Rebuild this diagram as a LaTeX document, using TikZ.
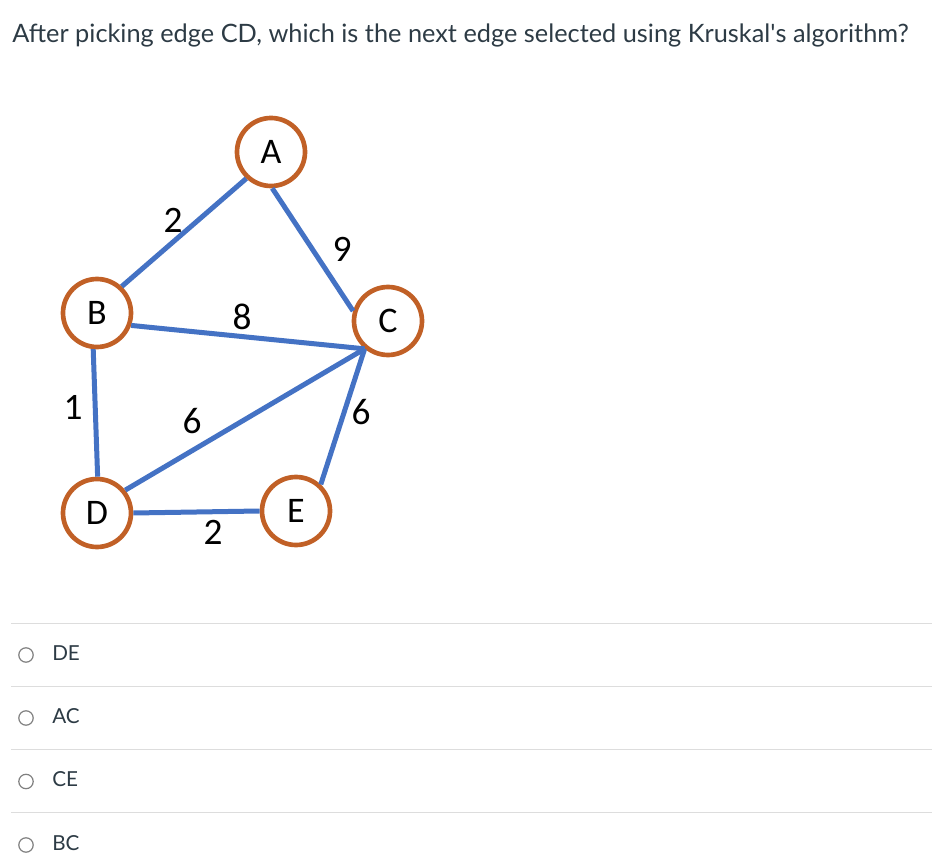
\documentclass[tikz,border=0pt]{standalone}
\usepackage{xcolor}
\usepackage{fontspec}
\usepackage{tikz}
\setmainfont{Lato}
\newfontfamily\lblfont{Carlito}
\definecolor{vtxring}{RGB}{193,96,38}
\definecolor{edgeblue}{RGB}{68,114,196}
\definecolor{canvastext}{RGB}{45,59,69}
\definecolor{rulegray}{RGB}{221,221,221}
\definecolor{radiogray}{RGB}{128,128,128}

\begin{document}
\begin{tikzpicture}[x=0.75pt,y=0.75pt,yscale=-1,xscale=1,
  vtx/.style={circle,draw=vtxring,fill=white,line width=3.5pt,minimum size=51pt,inner sep=0pt,font=\lblfont\fontsize{27}{30}\selectfont},
  edg/.style={draw=edgeblue,line width=3.75pt},
  wlbl/.style={inner sep=0pt,font=\lblfont\fontsize{28}{31}\selectfont},
  radio/.style={circle,draw=radiogray,line width=0.9pt,minimum size=10.8pt,inner sep=0pt},
  opt/.style={anchor=base west,inner sep=0pt,text=canvastext,font=\fontsize{15.5}{18}\selectfont},
  sep/.style={draw=rulegray,line width=0.75pt}]
\useasboundingbox (0,0) rectangle (932,866);

% Text Node
\node (title) [anchor=base west,inner sep=0pt,text=canvastext,font=\fontsize{19}{23}\selectfont] at (12,43) {After picking edge CD, which is the next edge selected using Kruskal\textquotesingle s algorithm?};

%Shape: Circle
\node (A) [vtx] at (271,152) {A};
\node (B) [vtx] at (97,313) {B};
\node (C) [vtx] at (388,321) {C};
\node (D) [vtx] at (97,513) {D};
\node (E) [vtx] at (296,511) {E};

%Straight Lines
\draw [edg] (B.47) -- (A.227);
\draw [edg] (A.272) -- (C.164);
\draw [edg] (B.340) -- (C.230);
\draw [edg] (B.264) -- (D.89);
\draw [edg] (D.39) -- (C.230);
\draw [edg] (E.47) -- (C.230);
\draw [edg] (D.0) -- (E.180);

% Text Node
\node (wAB) [wlbl] at (173,220) {2};
\node (wAC) [wlbl] at (342,249) {9};
\node (wBC) [wlbl] at (242,317) {8};
\node (wBD) [wlbl] at (73,407) {1};
\node (wDC) [wlbl] at (192,421) {6};
\node (wEC) [wlbl] at (361,412) {6};
\node (wDE) [wlbl] at (213,532) {2};

%Straight Lines
\coordinate (s1w) at (11,623); \coordinate (s1e) at (932,623);
\coordinate (s2w) at (11,686); \coordinate (s2e) at (932,686);
\coordinate (s3w) at (11,749); \coordinate (s3e) at (932,749);
\coordinate (s4w) at (11,812.5); \coordinate (s4e) at (932,812.5);
\draw [sep] (s1w) -- (s1e);
\draw [sep] (s2w) -- (s2e);
\draw [sep] (s3w) -- (s3e);
\draw [sep] (s4w) -- (s4e);

%Shape: Circle
\node (r1) [radio] at (26,655) {};
\node (r2) [radio] at (26,718) {};
\node (r3) [radio] at (26,781.5) {};
\node (r4) [radio] at (26,845) {};

% Text Node
\node (o1) [opt] at (52,660) {DE};
\node (o2) [opt] at (52,723) {AC};
\node (o3) [opt] at (52,786.5) {CE};
\node (o4) [opt] at (52,850) {BC};

\end{tikzpicture}
\end{document}
